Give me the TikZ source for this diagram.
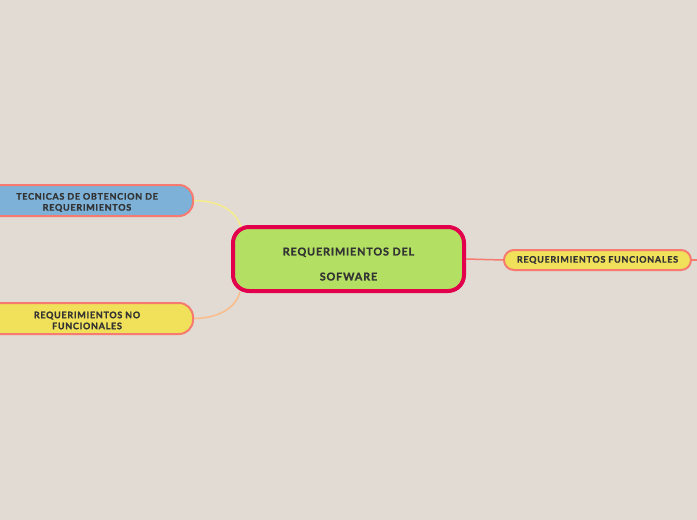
\documentclass[tikz,border=0pt]{standalone}
\usepackage{fontspec}
\newfontfamily\mapfont{Lato}[LetterSpace=8, BoldFeatures={FakeBold=1.2}]
\definecolor{paper}{HTML}{E1DBD3}
\definecolor{leafgreen}{HTML}{B3E063}
\definecolor{crimson}{HTML}{E2004C}
\definecolor{skyblue}{HTML}{7DB1D8}
\definecolor{lemon}{HTML}{F0E05A}
\definecolor{salmon}{HTML}{F77A70}
\definecolor{paleyellow}{HTML}{F6EC8A}
\definecolor{peach}{HTML}{FBBC8A}
\definecolor{ink}{HTML}{333333}
\tikzstyle{topic} = [rectangle, draw=crimson, fill=leafgreen, line width=4pt, rounded corners=16pt, text=ink, align=center, minimum width=231pt, minimum height=64pt, font=\mapfont\bfseries\fontsize{10.8}{25}\selectfont]
\tikzstyle{branch} = [rectangle, draw=salmon, line width=2pt, rounded corners=14pt, text=ink, align=center, minimum width=212pt, minimum height=31pt, font=\mapfont\bfseries\fontsize{9}{11}\selectfont]
\tikzstyle{leaf} = [rectangle, draw=salmon, fill=lemon, line width=2pt, rounded corners=10pt, text=ink, align=center, minimum width=187pt, minimum height=20pt, font=\mapfont\bfseries\fontsize{9}{11}\selectfont]

\begin{document}
\begin{tikzpicture}[x=1pt, y=-1pt]
	\fill[paper] (0,0) rectangle (697,520);
	\useasboundingbox (0,0) rectangle (697,520);
	\node[topic] (sw) at (348.5,259) {\rule{0pt}{18pt}REQUERIMIENTOS DEL\\SOFWARE};
	\node[branch, fill=skyblue] (tec) at (87,200.5) {\rule{0pt}{10.5pt}TECNICAS DE OBTENCION DE\\REQUERIMIENTOS};
	\node[branch, fill=lemon] (nofun) at (87,318.5) {\rule{0pt}{10.5pt}REQUERIMIENTOS NO\\FUNCIONALES};
	\node[leaf] (fun) at (597.5,260) {REQUERIMIENTOS FUNCIONALES};
	\coordinate (edge) at (697,260);
	% connectors
	\draw[paleyellow, line width=1.5pt] (tec.east) .. controls (224,201) and (237,214) .. ([xshift=10pt,yshift=-2pt]sw.north west);
	\draw[peach, line width=1.5pt] (nofun.east) .. controls (224,318) and (237,304) .. ([xshift=9pt,yshift=1pt]sw.south west);
	\draw[salmon, line width=1.5pt] (sw.east) -- (fun.west);
	\draw[salmon, line width=1.5pt] (fun.east) -- (edge);
\end{tikzpicture}
\end{document}
